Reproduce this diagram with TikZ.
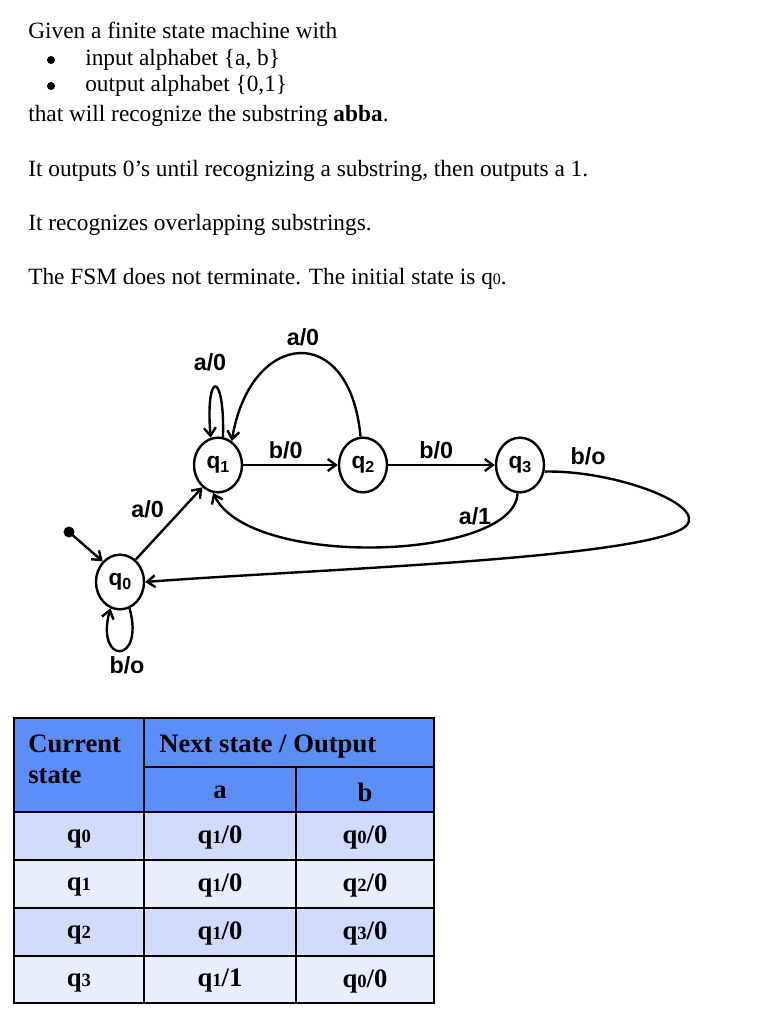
\documentclass[tikz,border=0pt]{standalone}
\usepackage{fontspec}
\setmainfont{Liberation Serif}
\newfontfamily\arial{Liberation Sans}
\usetikzlibrary{arrows.meta,shapes.geometric}
\definecolor{hdr}{HTML}{5B8EF8}
\definecolor{rowA}{HTML}{D0DCFA}
\definecolor{rowB}{HTML}{E9EEFC}
\newcommand{\sq}[1]{q{\fontsize{12}{12}\selectfont #1}}
\newcommand{\tq}[1]{q{\fontsize{14}{14}\selectfont #1}}
\newcommand{\aq}[1]{q\raisebox{-0.35ex}{\fontsize{12}{12}\selectfont #1}}
\begin{document}
\begin{tikzpicture}[x=0.75pt,y=-0.75pt,
  txt/.style={anchor=base west,inner sep=0,font=\fontsize{17.5}{20}\selectfont},
  st/.style={draw,line width=1.8pt,ellipse,minimum width=36pt,minimum height=41pt,inner sep=0,font=\arial\bfseries\fontsize{17}{20}\selectfont},
  lb/.style={font=\arial\bfseries\fontsize{17.5}{20}\selectfont,inner sep=1pt},
  ed/.style={line width=1.8pt,-{Straight Barb[length=6pt,width=9pt]}},
  cell/.style={draw,line width=1pt},
  ct/.style={font=\bfseries\fontsize{20}{23}\selectfont,inner sep=0}]
\useasboundingbox (0,0) rectangle (762,1024);
% text
\node[txt] (t1) at (28,39) {Given a finite state machine with};
\node[txt] (t2) at (85,65) {input alphabet \{a, b\}};
\node[txt] (t3) at (85,91) {output alphabet \{0,1\}};
\fill (51,60) circle (4) (51,86) circle (4);
\node[txt] (t4) at (28,122) {that will recognize the substring \textbf{abba}.};
\node[txt] (t5) at (28,176) {It outputs 0’s until recognizing a substring, then outputs a 1.};
\node[txt] (t6) at (28,230) {It recognizes overlapping substrings.};
\node[txt] (t7) at (28,284) {The FSM does not terminate. The initial state is \sq{0}.};
% diagram
\node[st] (q0) at (120,582) {\aq{0}};
\node[st] (q1) at (218,465) {\aq{1}};
\node[st] (q2) at (363,465) {\aq{2}};
\node[st] (q3) at (520,465) {\aq{3}};
\coordinate (init) at (69,532);
\fill (init) circle (5.5);
\draw[ed] (init) -- (q0.130);
\draw[ed] (q0.55) -- node[lb,above left=2pt] {a/0} (q1.235);
\draw[ed] (q1.80) .. controls (225,370) and (205,370) .. (q1.105);
\node[lb] at (210,362) {a/0};
\draw[ed] (q2.95) .. controls (350,320) and (250,330) .. (q1.60);
\node[lb] at (303,337) {a/0};
\draw[ed] (q1) -- node[lb,above=3pt,pos=0.45] {b/0} (q2);
\draw[ed] (q2) -- node[lb,above=3pt,pos=0.45] {b/0} (q3);
\draw[ed] (q3.265) .. controls (515,560) and (250,570) .. (q1.260);
\node[lb] at (475,516) {a/1};
\draw[ed] (q3.-15) .. controls (620,470) and (720,510) .. (680,530) .. controls (620,560) and (300,570) .. (q0.0);
\node[lb] at (588,456) {b/o};
\draw[ed] (q0.-70) .. controls (145,665) and (95,665) .. (q0.-110);
\node[lb] at (127,665) {b/o};
% table
\fill[hdr] (14,718) rectangle (434,812);
\fill[rowA] (14,812) rectangle (434,860);
\fill[rowB] (14,860) rectangle (434,908);
\fill[rowA] (14,908) rectangle (434,956);
\fill[rowB] (14,956) rectangle (434,1003);
\draw[cell,line width=1.5pt] (14,718) rectangle (434,1003);
\draw[cell] (144,718) -- (144,1003) (144,767) -- (434,767) (296,767) -- (296,1003);
\foreach \y in {812,860,908,956} \draw[cell] (14,\y) -- (434,\y);
\node[ct,anchor=base west] (h1) at (28,752) {Current};
\node[ct,anchor=base west] (h2) at (28,783) {state};
\node[ct,anchor=base west] (h3) at (159,752) {Next state / Output};
\node[ct] (ha) at (220,792) {a};
\node[ct] (hb) at (365,792) {b};
\node[ct] at (79,839) {\tq{0}};
\node[ct] at (79,887) {\tq{1}};
\node[ct] at (79,935) {\tq{2}};
\node[ct] at (79,983) {\tq{3}};
\node[ct] at (220,837) {\tq{1}/0};
\node[ct] at (220,885) {\tq{1}/0};
\node[ct] at (220,933) {\tq{1}/0};
\node[ct] at (220,981) {\tq{1}/1};
\node[ct] at (365,837) {\tq{0}/0};
\node[ct] at (365,885) {\tq{2}/0};
\node[ct] at (365,933) {\tq{3}/0};
\node[ct] at (365,981) {\tq{0}/0};
\end{tikzpicture}
\end{document}
